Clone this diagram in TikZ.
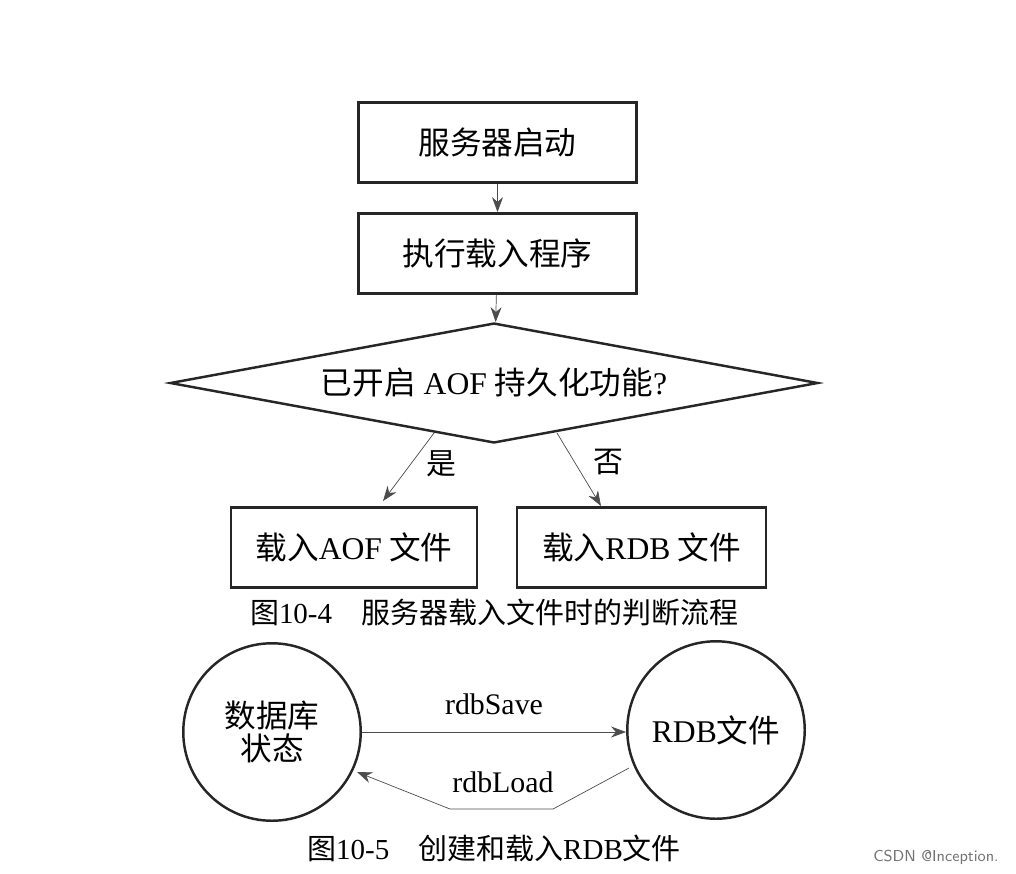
\documentclass[tikz,border=0pt]{standalone}
\usepackage{fontspec}
\setmainfont{Liberation Serif}
\newfontfamily\cjk{Noto Sans CJK SC}
\usetikzlibrary{shapes.geometric, arrows.meta}

\tikzset{
  stepbox/.style={draw=black!85, line width=1.6pt, minimum width=5.55cm, minimum height=1.6cm, font=\cjk\fontsize{18}{21}\selectfont},
  statecircle/.style={circle, draw=black!85, line width=1.4pt, minimum size=3.55cm, font=\fontsize{18}{21}\selectfont, align=center},
  flowarrow/.style={draw=black!70, thin, -{Stealth[length=3mm, width=2.2mm]}},
  caption/.style={font=\fontsize{16.5}{19}\selectfont}
}

\begin{document}
\begin{tikzpicture}[x=0.02cm, y=-0.02cm]
\useasboundingbox (0,0) rectangle (1016,873);

\node[stepbox] (start) at (497.5,142.5) {服务器启动};
\node[stepbox] (load) at (497.5,253.5) {执行载入程序};
\node[diamond, draw=black!85, line width=1.4pt, aspect=5.4, minimum width=12.96cm, minimum height=2.4cm, inner sep=0pt, font=\fontsize{18}{21}\selectfont] (check) at (494,383) {{\cjk 已开启} AOF {\cjk 持久化功能}?};
\node[stepbox, minimum width=4.92cm] (aof) at (354,547.5) {载入{\fontspec{Liberation Serif}AOF} 文件};
\node[stepbox, minimum width=4.98cm] (rdb) at (641.5,547.5) {载入{\fontspec{Liberation Serif}RDB} 文件};

\draw[flowarrow] (start) -- (load);
\draw[flowarrow] (load) -- (check);
\coordinate (yesfrom) at (434,433);
\coordinate (nofrom) at (557,433);
\draw[flowarrow] (yesfrom) -- (383,501) node[pos=0.45, right=5pt, font=\cjk\fontsize{17}{20}\selectfont] (yes) {是};
\draw[flowarrow] (nofrom) -- (601,506) node[pos=0.4, right=7pt, font=\cjk\fontsize{17}{20}\selectfont] (no) {否};

\node[caption] (cap1) at (494,612) {{\cjk 图}10-4\quad {\cjk 服务器载入文件时的判断流程}};

\node[statecircle] (db) at (272,732) {{\cjk 数据库}\\[-2pt]{\cjk 状态}};
\node[statecircle] (file) at (716,730) {RDB{\cjk 文件}};

\draw[flowarrow] (db.east |- 0,732) -- (file.west |- 0,732) node[midway, above=6pt, font=\fontsize{17}{20}\selectfont] (save) {rdbSave};
\coordinate (loadfrom) at (629,768);
\coordinate (loadright) at (553,809);
\coordinate (loadleft) at (450,809);
\coordinate (loadto) at (357,772);
\draw[flowarrow] (loadfrom) -- (loadright) -- (loadleft) -- (loadto);
\node[font=\fontsize{17}{20}\selectfont] (loadlabel) at (503,782) {rdbLoad};

\node[caption] (cap2) at (494,848) {{\cjk 图}10-5\quad {\cjk 创建和载入}RDB{\cjk 文件}};
\node[font=\sffamily\fontsize{9}{11}\selectfont, text=black!55] (mark) at (936,857) {CSDN @Inception.};
\end{tikzpicture}
\end{document}
